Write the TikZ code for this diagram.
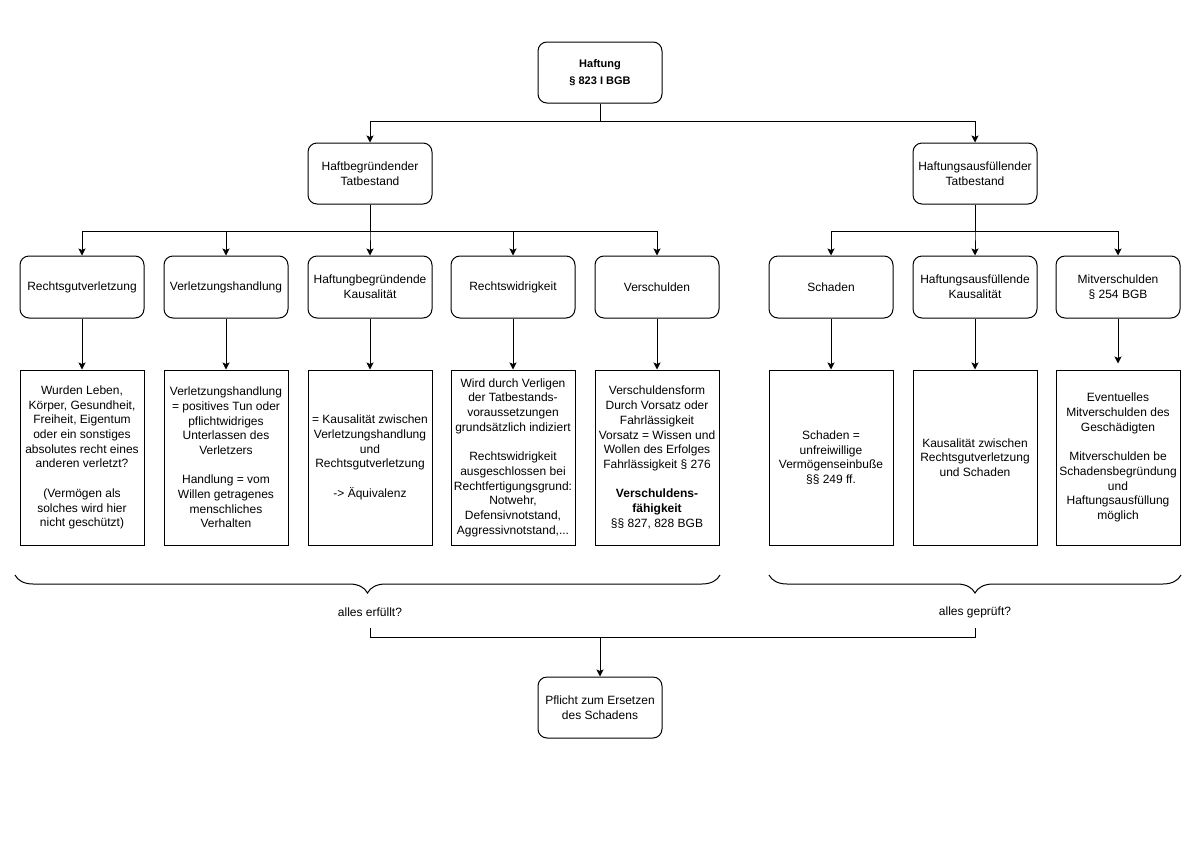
\documentclass[tikz,border=0pt]{standalone}
\usepackage{fontspec}
\setmainfont{Liberation Sans}
\usetikzlibrary{arrows.meta,positioning,decorations.pathreplacing}
\tikzset{
    head/.style =   {rectangle,
                    rounded corners=9pt,
                    fill=white,
                    draw=black,
                    text=black,
                    align=center,
                    inner sep=1pt,
                    font=\fontsize{11}{17}\selectfont\bfseries,
                    minimum width=124pt,
                    minimum height=61pt},
    group/.style =  {head,
                    font=\fontsize{12}{15}\selectfont},
    item/.style =   {group,
                    minimum height=62pt},
    detail/.style = {rectangle,
                    fill=white,
                    draw=black,
                    text=black,
                    align=center,
                    inner sep=1pt,
                    font=\fontsize{12}{14.7}\selectfont,
                    minimum width=124pt,
                    minimum height=175pt},
    question/.style = {text=black,
                    inner sep=0pt,
                    font=\fontsize{12}{14.7}\selectfont,
                    minimum height=30pt},
    -,
    >={Stealth[length=7pt,width=7pt,inset=1.5pt]}}

\begin{document}
\begin{tikzpicture}[x=1pt, y=-1pt, line width=1pt]
    \useasboundingbox (0,0) rectangle (1200,852);
    % top
    \node[head]  (haftung) at (600,72.5)  {Haftung\\§ 823 I BGB};
    \node[group] (hbt)     at (370,173.5) {Haftbegründender\\Tatbestand};
    \node[group] (hat)     at (975,173.5) {Haftungsausfüllender\\Tatbestand};
    % second row
    \node[item] (rgv) at (82,287)   {Rechtsgutverletzung};
    \node[item] (vh)  at (226,287)  {Verletzungshandlung};
    \node[item] (hbk) at (370,287)  {Haftungbegründende\\Kausalität};
    \node[item] (rw)  at (513,287)  {Rechtswidrigkeit};
    \node[item] (vs)  at (657,287)  {Verschulden};
    \node[item] (sch) at (831,287)  {Schaden};
    \node[item] (hak) at (975,287)  {Haftungsausfüllende\\Kausalität};
    \node[item] (mv)  at (1118,287) {Mitverschulden\\§ 254 BGB};
    % details
    \node[detail] (rgv-d) [below=51pt of rgv] {Wurden Leben,\\Körper, Gesundheit,\\Freiheit, Eigentum\\oder ein sonstiges\\absolutes recht eines\\anderen verletzt?\\[14.7pt](Vermögen als\\solches wird hier\\nicht geschützt)};
    \node[detail] (vh-d)  [below=51pt of vh]  {Verletzungshandlung\\= positives Tun oder\\pflichtwidriges\\Unterlassen des\\Verletzers\\[14.7pt]Handlung = vom\\Willen getragenes\\menschliches\\Verhalten};
    \node[detail] (hbk-d) [below=51pt of hbk] {= Kausalität zwischen\\Verletzungshandlung\\und\\Rechtsgutverletzung\\[14.7pt]-> Äquivalenz};
    \node[detail] (rw-d)  [below=51pt of rw]  {Wird durch Verligen\\der Tatbestands-\\voraussetzungen\\grundsätzlich indiziert\\[14.7pt]Rechtswidrigkeit\\ausgeschlossen bei\\Rechtfertigungsgrund:\\Notwehr,\\Defensivnotstand,\\Aggressivnotstand,...};
    \node[detail] (vs-d)  [below=51pt of vs]  {Verschuldensform\\Durch Vorsatz oder\\Fahrlässigkeit\\Vorsatz = Wissen und\\Wollen des Erfolges\\Fahrlässigkeit § 276\\[14.7pt]\textbf{Verschuldens-}\\\textbf{fähigkeit}\\§§ 827, 828 BGB};
    \node[detail] (sch-d) [below=51pt of sch] {Schaden =\\unfreiwillige\\Vermögenseinbuße\\§§ 249 ff.};
    \node[detail] (hak-d) [below=51pt of hak] {Kausalität zwischen\\Rechtsgutverletzung\\und Schaden};
    \node[detail] (mv-d)  [below=51pt of mv]  {Eventuelles\\Mitverschulden des\\Geschädigten\\[14.7pt]Mitverschulden be\\Schadensbegründung\\und\\Haftungsausfüllung\\möglich};
    \coordinate (mv-e) at ([yshift=6pt]mv-d.north);
    % bottom
    \node[question] (q1) at (370,612) {alles erfüllt?};
    \node[question] (q2) at (975,612) {alles geprüft?};
    \node[group] (pflicht) at (600,707.5) {Pflicht zum Ersetzen\\des Schadens};

    \draw[->] (haftung.south) -- ++(0,18) -| (hbt.north);
    \draw[->] (haftung.south) -- ++(0,18) -| (hat.north);
    \foreach \n in {rgv,vh,hbk,rw,vs}
        \draw[->] (hbt.south) -- ++(0,27) -| (\n.north);
    \foreach \n in {sch,hak,mv}
        \draw[->] (hat.south) -- ++(0,27) -| (\n.north);
    \foreach \n in {rgv,vh,hbk,rw,vs,sch,hak}
        \draw[->] (\n.south) -- (\n-d.north);
    \draw[->] (mv.south) -- (mv-e);
    \draw[decorate, decoration={brace, mirror, amplitude=18pt}] (15,575) -- (720,575);
    \draw[decorate, decoration={brace, mirror, amplitude=18pt}] (769,575) -- (1181,575);
    \draw (q1.south) -- ++(0,10) coordinate (join) -| (q2.south);
    \draw[->] (pflicht.north |- join) -- (pflicht.north);
\end{tikzpicture}
\end{document}
